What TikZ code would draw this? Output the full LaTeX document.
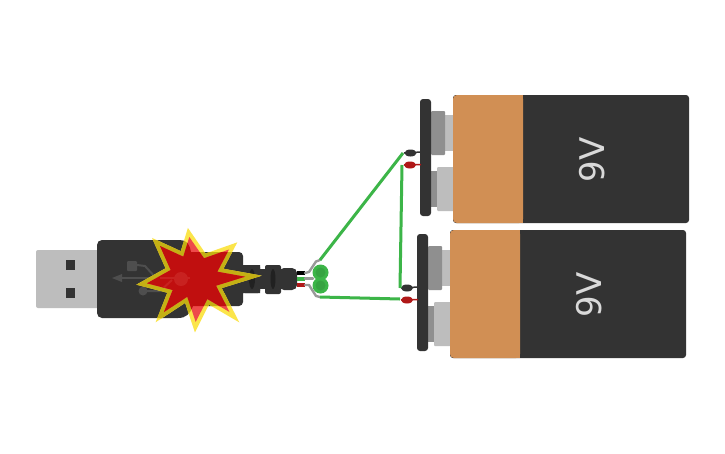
\documentclass[tikz,border=0pt]{standalone}
\usepackage{fontspec}
\setmainfont{DejaVu Sans}
\definecolor{body}{HTML}{333333}
\definecolor{steel}{HTML}{BDBDBD}
\definecolor{steeld}{HTML}{8F8F8F}
\definecolor{copperc}{HTML}{D18F54}
\definecolor{wirec}{HTML}{3CB548}
\definecolor{leadg}{HTML}{999999}
\definecolor{redl}{HTML}{B01818}
\definecolor{yelpale}{HTML}{FBE54A}
\definecolor{yeldark}{HTML}{C4B014}
\definecolor{redpale}{HTML}{EE4A4A}
\definecolor{reddark}{HTML}{C00F0F}
\definecolor{redlogo}{HTML}{C82220}
\tikzset{
 dk/.style={fill=body,draw=none},
 sl/.style={fill=steel,draw=none},
 sd/.style={fill=steeld,draw=none},
 wire/.style={draw=wirec,line width=3pt,line join=round},
 lead/.style={draw=leadg,line width=2.4pt,line join=round,line cap=round},
 volts/.style={text=white!85!black,font=\fontsize{34}{34}\selectfont,rotate=90,inner sep=0pt},
 pad/.style={circle,fill=wirec,draw=none,minimum size=16pt,inner sep=0pt},
 band/.style={line width=8pt,line join=miter,miter limit=10},
}
\newcommand{\battery}[3]{%
 \begin{scope}[shift={(#1,#2)}]
  \fill[sl] (-8,20) rectangle (1,56);
  \fill[sd,rounded corners=1pt] (-22,16) rectangle (-8,60);
  \fill[sl,rounded corners=1pt] (-16,72) rectangle (1,116);
  \fill[sd] (-22,76) rectangle (-16,112);
  \fill[dk,rounded corners=3pt] (-33,4) rectangle (-22,121);
  \fill[fill=body,rounded corners=3pt] (0,0) rectangle (236,128);
  \fill[fill=copperc,rounded corners=4pt] (70,0) -- (0,0) -- (0,128) -- (70,128) -- cycle;
  \fill[fill=copperc] (50,0) rectangle (70,128);
  \node[volts] (#3) at (139.5,65) {9V};
 \end{scope}}
\newcommand{\bodypath}{(97,245) arc[start angle=180,end angle=270,radius=5] -- (180,240) .. controls (187,240) and (190,245) .. (191,252) -- (239,252) arc[start angle=-90,end angle=0,radius=4] -- (243,265) -- (260,265) -- (260,293) -- (243,293) -- (243,302) arc[start angle=0,end angle=90,radius=4] -- (193,306) .. controls (190,314) and (186,318) .. (178,318) -- (102,318) arc[start angle=90,end angle=180,radius=5] -- cycle}
\newcommand{\redstar}{(189.3,237) -- (204,258.3) -- (229,249.5) -- (217.3,271.7) -- (245,276.7) -- (216,285.7) -- (229.5,312) -- (207.3,299) -- (195.7,322) -- (187.3,296.7) -- (164,312) -- (172.7,290) -- (147,283.3) -- (170.7,270) -- (160,246) -- (183.3,256.7) -- cycle}
\begin{document}
\begin{tikzpicture}[x=1pt,y=-1pt]
\useasboundingbox (0,0) rectangle (725,453);
\fill[white] (0,0) rectangle (725,453);
% USB plug
\fill[sl,rounded corners=2pt] (36,250) rectangle (100,308);
\fill[dk] (66,260) rectangle (75,270);
\fill[dk] (66,288) rectangle (75,298);
\fill[dk] \bodypath;
% USB logo
\begin{scope}[draw=white!13!body,fill=white!13!body]
 \fill[rounded corners=1pt] (127,261) rectangle (137,271);
 \draw[line width=2pt] (137,265) -- (145,266) -- (156,278);
 \draw[line width=2pt] (120,278) -- (190,278);
 \fill (112,278) -- (122,274) -- (122,282) -- cycle;
 \fill (143,291) circle (4.5pt);
 \draw[line width=2pt] (143,291) -- (160,291) -- (172,280);
\end{scope}
% strain relief
\fill[dk,rounded corners=2pt] (243,265) rectangle (260,293);
\fill[dk] (258,269) rectangle (267,289);
\fill[dk,rounded corners=2pt] (265,265) rectangle (281,294);
\fill[dk,rounded corners=5pt] (279,268) rectangle (297,290);
\fill[black!35!body] (252,279) ellipse (3pt and 10pt);
\fill[black!35!body] (273,279) ellipse (2.5pt and 10pt);
% leads
\fill[black] (297,271) rectangle (305,275);
\fill[wirec] (297,276.5) rectangle (305,280.5);
\fill[redl] (297,283) rectangle (305,287);
\draw[lead] (305,273) -- (309,272) -- (316,261.5) -- (320,260);
\draw[lead] (305,278.5) -- (313,278.5);
\draw[lead] (305,285) -- (309,285) -- (316,296) -- (320,297);
% terminals
\node[pad] (p1) at (320.5,272.5) {};
\node[pad] (p2) at (320.5,285.5) {};
\fill[wirec!90!black] (p1) circle (5pt);
\fill[wirec!90!black] (p2) circle (5pt);
% batteries
\battery{453}{95}{vone}
\battery{450}{230}{vtwo}
% connections
\coordinate (c1a) at (403,153);
\coordinate (c1b) at (402,165);
\coordinate (c2a) at (400,288);
\coordinate (c2b) at (400,299);
\coordinate (w1) at (320,260);
\coordinate (w2) at (320,297);
\fill[body] (410.5,153) ellipse (6pt and 3.5pt);
\draw[body,line width=1.5pt] (404,153) -- (421,152);
\fill[redl] (410,165) ellipse (6pt and 3.5pt);
\draw[redl,line width=1.5pt] (404,165) -- (421,164.5);
\fill[body] (407,288) ellipse (6pt and 3.5pt);
\draw[body,line width=1.5pt] (401,288) -- (418,287);
\fill[redl] (407,300) ellipse (6pt and 3.5pt);
\draw[redl,line width=1.5pt] (401,300) -- (418,299.5);
\draw[wire] (w1) -- (c1a);
\draw[wire] (c1b) -- (c2a);
\draw[wire] (w2) -- (c2b);
% explosion
\draw[band,draw=yelpale] \redstar;
\begin{scope}
 \clip \bodypath;
 \draw[band,draw=yeldark] \redstar;
\end{scope}
\fill[redpale] \redstar;
\begin{scope}
 \clip \redstar;
 \fill[reddark] \bodypath;
 \fill[redlogo] (181,279) circle (7pt);
 \fill[redlogo] (160,276.8) rectangle (190,279.2);
 \draw[redlogo,line width=2pt] (160,291) -- (172,280);
\end{scope}
\end{tikzpicture}
\end{document}
